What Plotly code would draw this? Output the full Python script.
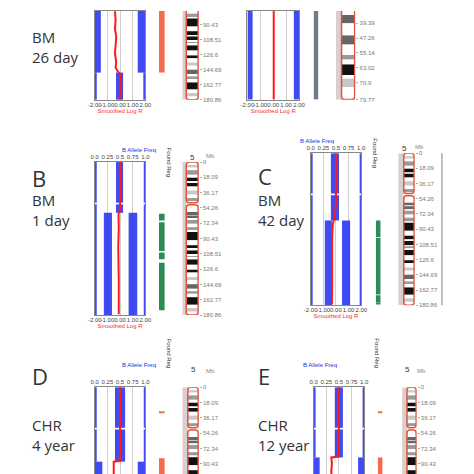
import plotly.graph_objects as go

W = H = 474
# ---------------- data ----------------
chr5_band_start = [0,4.5,6.3,9.8,15,18.4,23.3,24.6,28.9,33.8,38.4,42.5,46.1,48.8,50.7,58.9,62.9,63.2,66.7,68.4,73,76.9,81.4,82.8,92.3,98.2,102.8,104.5,109.6,111.5,113.1,115.2,121.4,127.3,130.6,136.2,139.5,144.5,149.8,152.7,155.7,159.9,168.5,172.8,176.6]
chr5_band_end = chr5_band_start[1:] + [180.86]
chr5_band_stain = ["n","25","n","50","n","100","n","100","n","25","n","50","acen","acen","n","75","n","75","n","50","n","50","n","100","n","100","n","100","n","50","n","100","n","100","n","25","n","75","n","50","n","100","n","25","n"]
chr5_arms = [[0, 48.0], [50.5, 180.86]]
chr18_band_start = [18.5,27.5,35.1,39.5,45.9,50.7,56.2,58.6,61.3,66.8,68.7,73.1]
chr18_band_end = [27.5,35.1,39.5,45.9,50.7,56.2,58.6,61.3,66.8,68.7,73.1,79.77]
chr18_band_stain = ["100","n","75","n","75","n","50","n","100","n","25","n"]
chr18_arms = [[18.5, 79.77]]
chr5_ticks = [0,18.09,36.17,54.26,72.34,90.43,108.51,126.6,144.69,162.77,180.86]
chr18_ticks = [39.39,47.26,55.14,63.02,70.9,79.77]
baf_ticks = [0,0.25,0.5,0.75,1.0]
baf_ticklabels = ["0.0","0.25","0.5","0.75","1.0"]
lrr_ticklabels = ["-2.00","-1.00","0.00","1.00","2.00"]

# BAF clusters: start Mb, end Mb, low BAF, high BAF
A1_seg_start = [73.7,73.7,148,148,148]
A1_seg_end   = [148,148,180.86,180.86,180.86]
A1_seg_lo    = [0.0,0.85,0.0,0.96,0.42]
A1_seg_hi    = [0.12,1.0,0.04,1.0,0.56]
A1_lrr_pos = [74,85,95,105,115,125,135,142,146,150,160,170,180]
A1_lrr_val = [-0.4,-0.35,-0.4,-0.3,-0.35,-0.4,-0.3,-0.35,-0.2,0.0,0.02,-0.02,0.0]
A1_reg_start = [73.7]
A1_reg_end = [148]

A2_seg_start = [33,33]
A2_seg_end = [79.77,79.77]
A2_seg_lo = [0.0,0.9]
A2_seg_hi = [0.1,1.0]
A2_lrr_pos = [33,40,47,55,62,70,79.77]
A2_lrr_val = [0.04,0.03,0.04,0.05,0.03,0.04,0.04]
A2_reg_start = [33]
A2_reg_end = [79.77]

B_seg_start = [0,0,0,50,50,50,60,60]
B_seg_end = [48,48,48,180.86,180.86,60,180.86,180.86]
B_seg_lo = [0.0,0.97,0.42,0.0,0.97,0.42,0.18,0.67]
B_seg_hi = [0.03,1.0,0.56,0.03,1.0,0.56,0.34,0.84]
B_lrr_pos = [0,20,40,55,62,80,100,110,120,140,160,180]
B_lrr_val = [0.0,0.0,0.0,0.0,-0.12,-0.1,-0.14,-0.1,-0.12,-0.1,-0.12,-0.1]
B_reg_start = [61,71,107,119]
B_reg_end = [69,105,115,175]

C_seg_start = [0,0,0,50,50,50,80,80]
C_seg_end = [48,48,48,180.86,180.86,80,180.86,180.86]
C_seg_lo = [0.0,0.97,0.4,0.0,0.97,0.4,0.28,0.62]
C_seg_hi = [0.03,1.0,0.56,0.03,1.0,0.56,0.42,0.78]
C_lrr_pos = [0,20,40,60,75,85,100,120,140,160,180]
C_lrr_val = [0.0,0.0,0.0,0.0,-0.1,-0.25,-0.3,-0.28,-0.3,-0.3,-0.32]
C_reg_start = [80,101,169,178]
C_reg_end = [100,168,177,180]

D_seg_start = [0,0,0,50,50,50,88,88]
D_seg_end = [48,48,48,88,88,88,108.5,108.5]
D_seg_lo = [0.0,0.97,0.4,0.0,0.97,0.4,0.0,0.85]
D_seg_hi = [0.03,1.0,0.6,0.03,1.0,0.6,0.15,1.0]
D_lrr_pos = [0,30,60,87,88,95,100,108]
D_lrr_val = [0.0,0.0,0.0,0.0,-0.5,-0.5,-0.48,-0.5]
D_reg_start = [29,84]
D_reg_end = [30,108.5]

E_seg_start = [0,0,0,50,50,50,83,83]
E_seg_end = [48,48,48,83,83,83,108.5,108.5]
E_seg_lo = [0.0,0.97,0.42,0.0,0.97,0.42,0.0,0.88]
E_seg_hi = [0.03,1.0,0.58,0.03,1.0,0.58,0.12,1.0]
E_lrr_pos = [0,30,60,82,83,90,100,108]
E_lrr_val = [0.0,0.0,0.0,0.0,-0.6,-0.55,-0.6,-0.58]
E_reg_start = [29,83]
E_reg_end = [30,108.5]

# ---------------- layout helpers ----------------
stain_col = {"n":"white","25":"#c8c8c8","50":"#9a9a9a","75":"#666666","100":"#111111","acen":"white"}
fig = go.Figure()
lay = {"annotations": []}
k = [0]

def xd(a, b): return [a/W, b/W]
def yd(t, b): return [max(0, 1-b/H), min(1, 1-t/H)]

def new_axes(xdom, ydom, yrange):
    k[0] += 1
    n = k[0]
    xn = "xaxis" if n == 1 else f"xaxis{n}"
    yn = "yaxis" if n == 1 else f"yaxis{n}"
    lay[xn] = dict(domain=xdom, anchor=f"y{n}" if n > 1 else "y", showgrid=False, zeroline=False,
                   showticklabels=False, range=[0, 1], fixedrange=True)
    lay[yn] = dict(domain=ydom, anchor=f"x{n}" if n > 1 else "x", range=yrange, showgrid=False,
                   zeroline=False, showticklabels=False, fixedrange=True)
    return ("x" if n == 1 else f"x{n}"), ("y" if n == 1 else f"y{n}"), xn, yn

def baf_panel(px, py, yrange, s0, s1, lo, hi, lp, lv, show_top=True, show_bottom=True):
    xa, ya, xn, yn = new_axes(xd(*px), yd(*py), yrange)
    lay[xn].update(showgrid=True, gridcolor="#cfcfcf", tickvals=baf_ticks, ticktext=baf_ticklabels,
                   side="top", showticklabels=show_top, tickfont=dict(size=6, color="#444"), tickangle=0,
                   showline=True, linecolor="#888", mirror=True, ticks="")
    lay[yn].update(showline=True, linecolor="#888", mirror=True)
    fig.add_trace(go.Bar(orientation="h", y=[(a+b)/2 for a, b in zip(s0, s1)],
                         width=[b-a for a, b in zip(s0, s1)], base=lo,
                         x=[h-l for l, h in zip(lo, hi)], marker=dict(color="#1f2cf0", line_width=0),
                         opacity=0.85, xaxis=xa, yaxis=ya, showlegend=False))
    fig.add_trace(go.Scatter(x=[(v+2)/4 for v in lv], y=lp, mode="lines",
                             line=dict(color="#ff1a1a", width=2), xaxis=xa, yaxis=ya, showlegend=False))
    if show_bottom:
        k[0] += 1
        n = k[0]
        xo = f"x{n}"
        lay[f"xaxis{n}"] = dict(domain=xd(*px), overlaying=xa, anchor=ya, side="bottom", range=[0, 1],
                                tickvals=baf_ticks, ticktext=lrr_ticklabels, tickfont=dict(size=6, color="#444"),
                                tickangle=0, showgrid=False, zeroline=False, fixedrange=True, ticks="",
                                title=dict(text="Smoothed Log R", font=dict(size=6, color="#ff2a2a"), standoff=1))
        fig.add_trace(go.Scatter(x=[None], y=[None], xaxis=xo, yaxis=ya, showlegend=False, hoverinfo="skip"))
    if show_top:
        lay["annotations"].append(dict(
            x=(px[0]+px[1])/2/W, y=1-(py[0]-17)/H, xref="paper", yref="paper", text="B Allele Freq",
            showarrow=False, font=dict(size=6, color="#2233dd")))

def reg_panel(px, py, yrange, s0, s1, color, label=True):
    xa, ya, xn, yn = new_axes(xd(*px), yd(*py), yrange)
    fig.add_trace(go.Bar(x=[0.5]*len(s0), width=[1]*len(s0), base=s0, y=[b-a for a, b in zip(s0, s1)],
                         marker=dict(color=color, line_width=0), xaxis=xa, yaxis=ya, showlegend=False))
    if label:
        lay["annotations"].append(dict(
            x=(px[0]+px[1])/2/W + 0.004, y=1-(py[0]-17)/H, xref="paper", yref="paper", text="Found Reg",
            textangle=90, showarrow=False, font=dict(size=6, color="#333")))

def ideo_panel(px, py, yrange, strip_frac, bs, be, st, arms, tvals, show_head=True):
    xa, ya, xn, yn = new_axes(xd(*px), yd(*py), yrange)
    lay[yn].update(side="right", tickvals=tvals, ticktext=[f"{t:g}" for t in tvals], showticklabels=True,
                   tickfont=dict(size=6, color="#777"), ticks="outside", ticklen=2, tickcolor="#aaa")
    top = min(yrange); bot = max(yrange)
    fig.add_trace(go.Bar(x=[0.5], width=[1], base=[top], y=[bot-top], marker=dict(color="#d9cfcf", line_width=0),
                         xaxis=xa, yaxis=ya, showlegend=False))
    c = strip_frac + (1-strip_frac)/2
    w = (1-strip_frac)*0.9
    fig.add_trace(go.Bar(x=[c]*len(bs), width=[w]*len(bs), base=bs, y=[b-a for a, b in zip(bs, be)],
                         marker=dict(color=[stain_col[s] for s in st], line_width=0),
                         xaxis=xa, yaxis=ya, showlegend=False))
    fig.add_trace(go.Bar(x=[c]*len(arms), width=[w]*len(arms), base=[a[0] for a in arms],
                         y=[a[1]-a[0] for a in arms],
                         marker=dict(color="rgba(0,0,0,0)", line=dict(color="#e0533c", width=1.5), cornerradius=3),
                         xaxis=xa, yaxis=ya, showlegend=False))
    if show_head:
        lay["annotations"].extend([
            dict(x=(px[0]+(px[1]-px[0])*c)/W, y=1-(py[0]-11)/H, xref="paper", yref="paper", text="5",
                 showarrow=False, font=dict(size=8, color="#333")),
            dict(x=(px[1]+12)/W, y=1-(py[0]-11)/H, xref="paper", yref="paper", text="Mb",
                 showarrow=False, font=dict(size=6, color="#888"))])

# Panel A (top, cropped)
baf_panel((82,134),(0,90),[180.86,73.7],A1_seg_start,A1_seg_end,A1_seg_lo,A1_seg_hi,A1_lrr_pos,A1_lrr_val,show_top=False)
reg_panel((148,154),(0,90),[180.86,73.7],A1_reg_start,A1_reg_end,"#f26b4f",label=False)
ideo_panel((172,189),(0,90),[180.86,73.7],0.2,chr5_band_start,chr5_band_end,chr5_band_stain,chr5_arms,chr5_ticks[5:],show_head=False)
baf_panel((239,292),(0,90),[79.9,33.0],A2_seg_start,A2_seg_end,A2_seg_lo,A2_seg_hi,A2_lrr_pos,A2_lrr_val,show_top=False)
reg_panel((307,312),(0,90),[79.9,33.0],A2_reg_start,A2_reg_end,"#6e7b8b",label=False)
ideo_panel((330,350),(0,90),[79.9,33.0],0.25,chr18_band_start,chr18_band_end,chr18_band_stain,chr18_arms,chr18_ticks,show_head=False)
# Panel B
baf_panel((82,134),(153,308),[180.86,0],B_seg_start,B_seg_end,B_seg_lo,B_seg_hi,B_lrr_pos,B_lrr_val)
reg_panel((148,154),(153,308),[180.86,0],B_reg_start,B_reg_end,"#2e8b57")
ideo_panel((172,189),(153,308),[180.86,0],0.2,chr5_band_start,chr5_band_end,chr5_band_stain,chr5_arms,chr5_ticks)
# Panel C
baf_panel((304,356),(144,298),[180.86,0],C_seg_start,C_seg_end,C_seg_lo,C_seg_hi,C_lrr_pos,C_lrr_val)
reg_panel((371,376),(144,298),[180.86,0],C_reg_start,C_reg_end,"#2e8b57")
ideo_panel((394,411),(144,298),[180.86,0],0.3,chr5_band_start,chr5_band_end,chr5_band_stain,chr5_arms,chr5_ticks)
# Panel D
baf_panel((82,134),(381,474),[108.5,0],D_seg_start,D_seg_end,D_seg_lo,D_seg_hi,D_lrr_pos,D_lrr_val,show_bottom=False)
reg_panel((148,154),(381,474),[108.5,0],D_reg_start,D_reg_end,"#f26b4f")
ideo_panel((172,189),(381,474),[108.5,0],0.3,chr5_band_start,chr5_band_end,chr5_band_stain,chr5_arms,chr5_ticks[:7])
# Panel E
baf_panel((307,359),(381,474),[108.5,0],E_seg_start,E_seg_end,E_seg_lo,E_seg_hi,E_lrr_pos,E_lrr_val,show_bottom=False)
reg_panel((373,378),(381,474),[108.5,0],E_reg_start,E_reg_end,"#f26b4f")
ideo_panel((398,413),(381,474),[108.5,0],0.3,chr5_band_start,chr5_band_end,chr5_band_stain,chr5_arms,chr5_ticks[:7])

labels = [("BM<br>26 day",15,14,15),("B",15,152,22),("BM<br>1 day",15,202,15),
          ("C",248,150,22),("BM<br>42 day",248,202,15),
          ("D",15,387,22),("CHR<br>4 year",15,452,15),("E",248,387,22),("CHR<br>12 year",248,452,15)]
for t, x, y, s in labels:
    lay["annotations"].append(dict(x=x/W, y=1-y/H, xref="paper", yref="paper", text=t,
        showarrow=False, xanchor="left", align="left", font=dict(size=s, color="#333", family="Open Sans")))

lay["shapes"] = [dict(type="line", xref="paper", yref="paper", x0=439/W, x1=439/W, y0=1-298/H, y1=1-144/H,
                      line=dict(color="#aaa", width=1.5))]
fig.update_layout(**lay)
fig.update_layout(width=W, height=H, margin=dict(l=0, r=0, t=0, b=0), paper_bgcolor="white",
                  plot_bgcolor="white", barmode="overlay", font=dict(family="Liberation Sans"))
fig.write_html("out.html")
